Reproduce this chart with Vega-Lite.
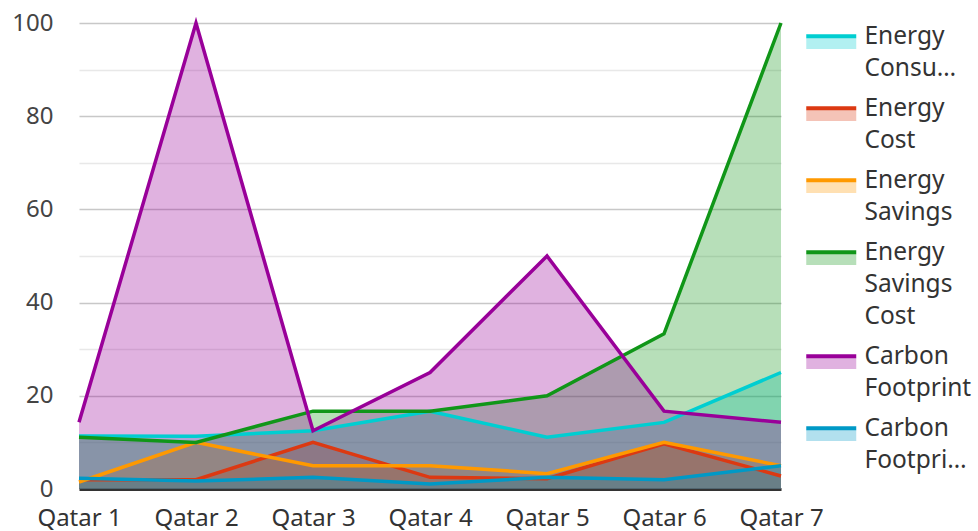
{
  "$schema": "https://vega.github.io/schema/vega-lite/v6.json",
  "width": 702,
  "height": 466,
  "autosize": "none",
  "padding": {"left": 79, "top": 23, "right": 197, "bottom": 42},
  "background": "white",
  "config": {
    "font": "Noto Sans",
    "view": {"stroke": null},
    "axis": {"labelFont": "Noto Sans", "labelFontSize": 24, "ticks": false, "title": null}
  },
  "data": {
    "values": [
      {"q": "Qatar 1", "series": "Energy Consumption", "value": 11.4},
      {"q": "Qatar 2", "series": "Energy Consumption", "value": 11.3},
      {"q": "Qatar 3", "series": "Energy Consumption", "value": 12.5},
      {"q": "Qatar 4", "series": "Energy Consumption", "value": 16.7},
      {"q": "Qatar 5", "series": "Energy Consumption", "value": 11.1},
      {"q": "Qatar 6", "series": "Energy Consumption", "value": 14.3},
      {"q": "Qatar 7", "series": "Energy Consumption", "value": 25},
      {"q": "Qatar 1", "series": "Energy Cost", "value": 2.0},
      {"q": "Qatar 2", "series": "Energy Cost", "value": 2.0},
      {"q": "Qatar 3", "series": "Energy Cost", "value": 10},
      {"q": "Qatar 4", "series": "Energy Cost", "value": 2.5},
      {"q": "Qatar 5", "series": "Energy Cost", "value": 2.2},
      {"q": "Qatar 6", "series": "Energy Cost", "value": 9.7},
      {"q": "Qatar 7", "series": "Energy Cost", "value": 2.8},
      {"q": "Qatar 1", "series": "Energy Savings", "value": 1.5},
      {"q": "Qatar 2", "series": "Energy Savings", "value": 10},
      {"q": "Qatar 3", "series": "Energy Savings", "value": 5},
      {"q": "Qatar 4", "series": "Energy Savings", "value": 5},
      {"q": "Qatar 5", "series": "Energy Savings", "value": 3.3},
      {"q": "Qatar 6", "series": "Energy Savings", "value": 10},
      {"q": "Qatar 7", "series": "Energy Savings", "value": 5},
      {"q": "Qatar 1", "series": "Energy Savings Cost", "value": 11.1},
      {"q": "Qatar 2", "series": "Energy Savings Cost", "value": 10},
      {"q": "Qatar 3", "series": "Energy Savings Cost", "value": 16.7},
      {"q": "Qatar 4", "series": "Energy Savings Cost", "value": 16.7},
      {"q": "Qatar 5", "series": "Energy Savings Cost", "value": 20},
      {"q": "Qatar 6", "series": "Energy Savings Cost", "value": 33.3},
      {"q": "Qatar 7", "series": "Energy Savings Cost", "value": 100},
      {"q": "Qatar 1", "series": "Carbon Footprint", "value": 14.3},
      {"q": "Qatar 2", "series": "Carbon Footprint", "value": 100},
      {"q": "Qatar 3", "series": "Carbon Footprint", "value": 12.5},
      {"q": "Qatar 4", "series": "Carbon Footprint", "value": 25},
      {"q": "Qatar 5", "series": "Carbon Footprint", "value": 50},
      {"q": "Qatar 6", "series": "Carbon Footprint", "value": 16.7},
      {"q": "Qatar 7", "series": "Carbon Footprint", "value": 14.3},
      {"q": "Qatar 1", "series": "Carbon Footprint Reduction", "value": 2.3},
      {"q": "Qatar 2", "series": "Carbon Footprint Reduction", "value": 1.7},
      {"q": "Qatar 3", "series": "Carbon Footprint Reduction", "value": 2.5},
      {"q": "Qatar 4", "series": "Carbon Footprint Reduction", "value": 1.1},
      {"q": "Qatar 5", "series": "Carbon Footprint Reduction", "value": 2.5},
      {"q": "Qatar 6", "series": "Carbon Footprint Reduction", "value": 2.0},
      {"q": "Qatar 7", "series": "Carbon Footprint Reduction", "value": 5}
    ]
  },
  "encoding": {
    "x": {
      "field": "q",
      "type": "ordinal",
      "scale": {"type": "point", "padding": 0},
      "axis": {
        "labelAngle": 0,
        "labelColor": "#333333",
        "labelPadding": 17,
        "grid": false,
        "domain": true,
        "domainColor": "#333333",
        "domainWidth": 3
      }
    },
    "y": {
      "field": "value",
      "type": "quantitative",
      "stack": null,
      "scale": {"domain": [0, 100], "nice": false},
      "axis": {
        "values": [0, 10, 20, 30, 40, 50, 60, 70, 80, 90, 100],
        "labelExpr": "datum.value % 20 === 0 ? datum.label : ''",
        "labelColor": "#444444",
        "labelPadding": 26,
        "domain": false,
        "grid": true,
        "gridWidth": 1.5,
        "gridColor": {"condition": {"test": "datum.value % 20 === 0", "value": "#c8c8c8"}, "value": "#e8e8e8"}
      }
    }
  },
  "layer": [
    {
      "mark": {"type": "area", "opacity": 0.3},
      "encoding": {
        "fill": {
          "field": "series",
          "type": "nominal",
          "scale": {
            "domain": ["Energy Consumption", "Energy Cost", "Energy Savings", "Energy Savings Cost", "Carbon Footprint", "Carbon Footprint Reduction"],
            "range": ["#00CED1", "#DC3912", "#FF9900", "#109618", "#990099", "#0099C6"]
          },
          "legend": {
            "orient": "none",
            "legendX": 734,
            "legendY": 0,
            "padding": 0,
            "title": null,
            "symbolType": "M-4.75,0.68L7.75,0.68L7.75,3.43L-4.75,3.43Z",
            "symbolSize": 64,
            "symbolStrokeWidth": 0,
            "symbolOpacity": 0.3,
            "labelExpr": "datum.label == 'Energy Savings Cost' ? [' ',' ',' '] : [' ',' ']",
            "labelFont": "Noto Sans",
            "labelFontSize": 24.5,
            "labelColor": "transparent",
            "labelBaseline": "alphabetic",
            "labelOffset": 27,
            "labelLimit": 300,
            "rowPadding": 14,
            "encode": {"labels": {"update": {"dy": {"value": 9}, "lineHeight": {"value": 32}}}}
          }
        }
      }
    },
    {
      "mark": {"type": "line", "strokeWidth": 3.5},
      "encoding": {
        "stroke": {
          "field": "series",
          "type": "nominal",
          "scale": {
            "domain": ["Energy Consumption", "Energy Cost", "Energy Savings", "Energy Savings Cost", "Carbon Footprint", "Carbon Footprint Reduction"],
            "range": ["#00CED1", "#DC3912", "#FF9900", "#109618", "#990099", "#0099C6"]
          },
          "legend": {
            "orient": "right",
            "offset": 25,
            "padding": 0,
            "title": null,
            "symbolType": "M-4.75,0.22L7.75,0.22",
            "symbolSize": 64,
            "symbolStrokeWidth": 4,
            "labelExpr": "datum.label == 'Energy Consumption' ? ['Energy','Consu…'] : datum.label == 'Energy Cost' ? ['Energy','Cost'] : datum.label == 'Energy Savings' ? ['Energy','Savings'] : datum.label == 'Energy Savings Cost' ? ['Energy','Savings','Cost'] : datum.label == 'Carbon Footprint' ? ['Carbon','Footprint'] : ['Carbon','Footpri…']",
            "labelFont": "Noto Sans",
            "labelFontSize": 24.5,
            "labelColor": "#333333",
            "labelBaseline": "alphabetic",
            "labelOffset": 27,
            "labelLimit": 300,
            "rowPadding": 14,
            "encode": {"labels": {"update": {"dy": {"value": 9}, "lineHeight": {"value": 32}}}}
          }
        }
      }
    }
  ]
}
